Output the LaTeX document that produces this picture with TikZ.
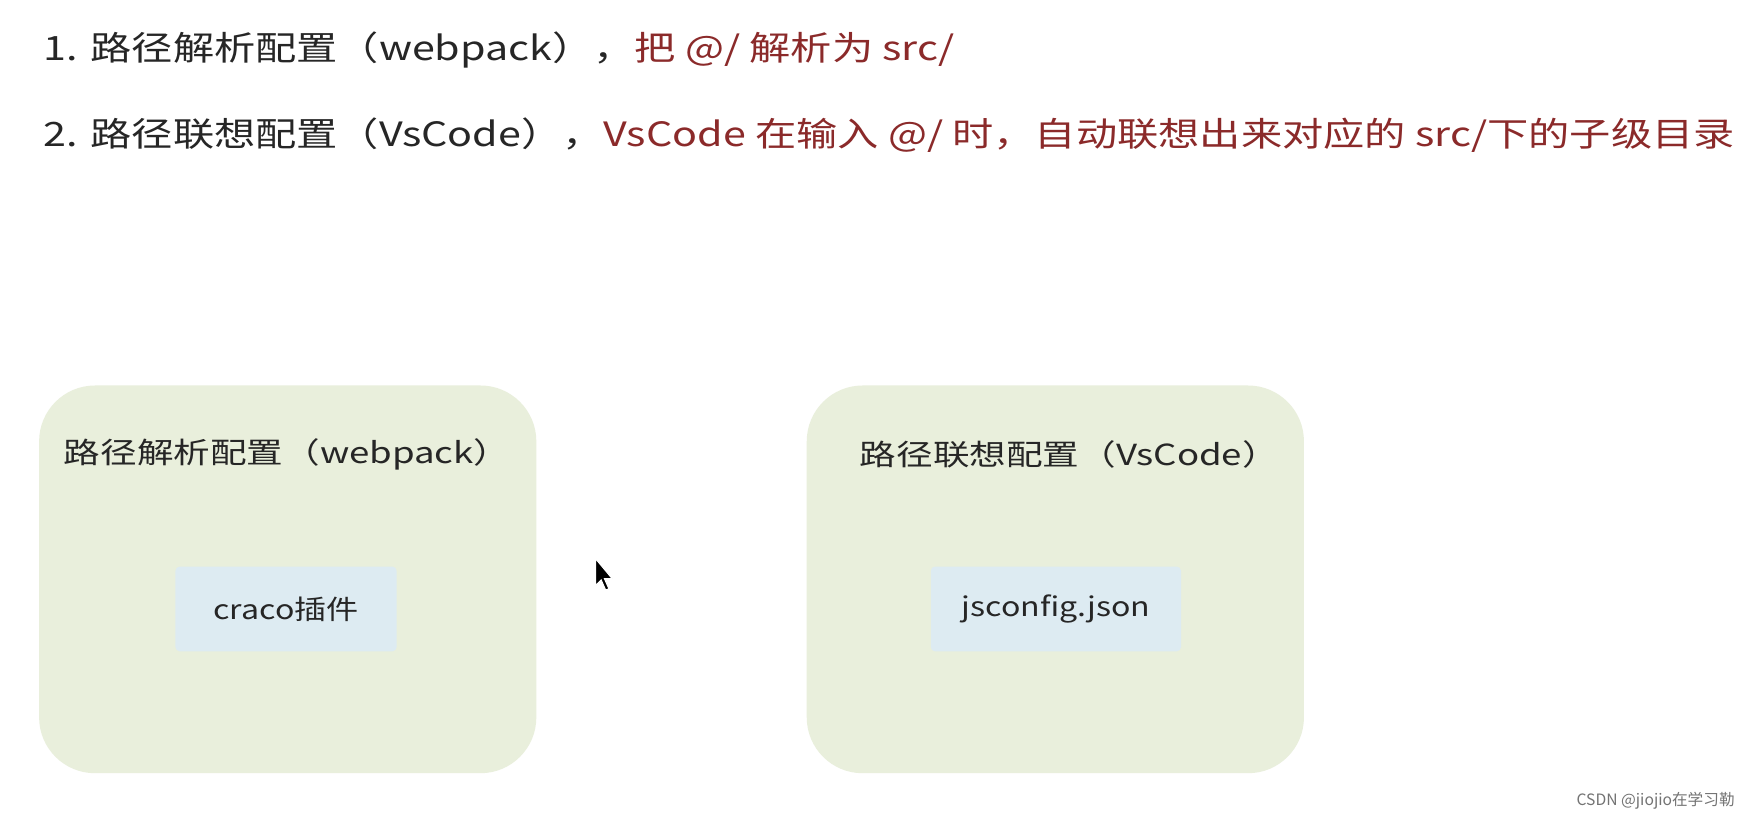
\documentclass[tikz,border=0pt]{standalone}
\usepackage{fontspec}
\setmainfont{Noto Sans CJK SC}
\definecolor{dred}{HTML}{8B2A2A}
\definecolor{gbox}{HTML}{E9EFDC}
\definecolor{bbox}{HTML}{DDEBF2}
\begin{document}
\begin{tikzpicture}[x=1pt,y=-1pt,
  outer/.style={fill=gbox,draw=none,rounded corners=50pt},
  inner/.style={fill=bbox,draw=none,rounded corners=4pt},
  lbl/.style={font=\fontsize{26}{30}\selectfont,text=black!85,transform shape,xscale=1.26}]
\useasboundingbox[fill=white] (0,0) rectangle (1568,734);
\node[anchor=west,font=\fontsize{30}{34}\selectfont,text=black!85,transform shape,xscale=1.23] (l1) at (35,45) {1. 路径解析配置（webpack），\textcolor{dred}{把 @/ 解析为 src/}};
\node[anchor=west,font=\fontsize{30}{34}\selectfont,text=black!85,transform shape,xscale=1.23] (l2) at (35,121) {2. 路径联想配置（VsCode），\textcolor{dred}{VsCode 在输入 @/ 时，自动联想出来对应的 src/下的子级目录}};
\fill[outer] (35,345) rectangle (480,692);
\fill[outer] (722,345) rectangle (1167,692);
\node[lbl] (t1) at (257,407) {路径解析配置（webpack）};
\node[lbl] (t2) at (957,407) {路径联想配置（VsCode）};
\fill[inner] (157,507) rectangle (355,583);
\fill[inner] (833,507) rectangle (1057,583);
\node[lbl,font=\fontsize{24}{28}\selectfont,xscale=0.95] (c1) at (256,545) {craco插件};
\node[lbl,font=\fontsize{24}{28}\selectfont,xscale=0.95] (c2) at (945,545) {jsconfig.json};
\fill[black,draw=white,line width=1pt] (533,500) -- (533,524) -- (538,519) -- (542,528) -- (545,527) -- (541,518) -- (548,518) -- cycle;
\node[anchor=east,font=\fontsize{14}{16}\selectfont,text=black!55] (wm) at (1556,717) {CSDN @jiojio在学习勒};
\end{tikzpicture}
\end{document}
